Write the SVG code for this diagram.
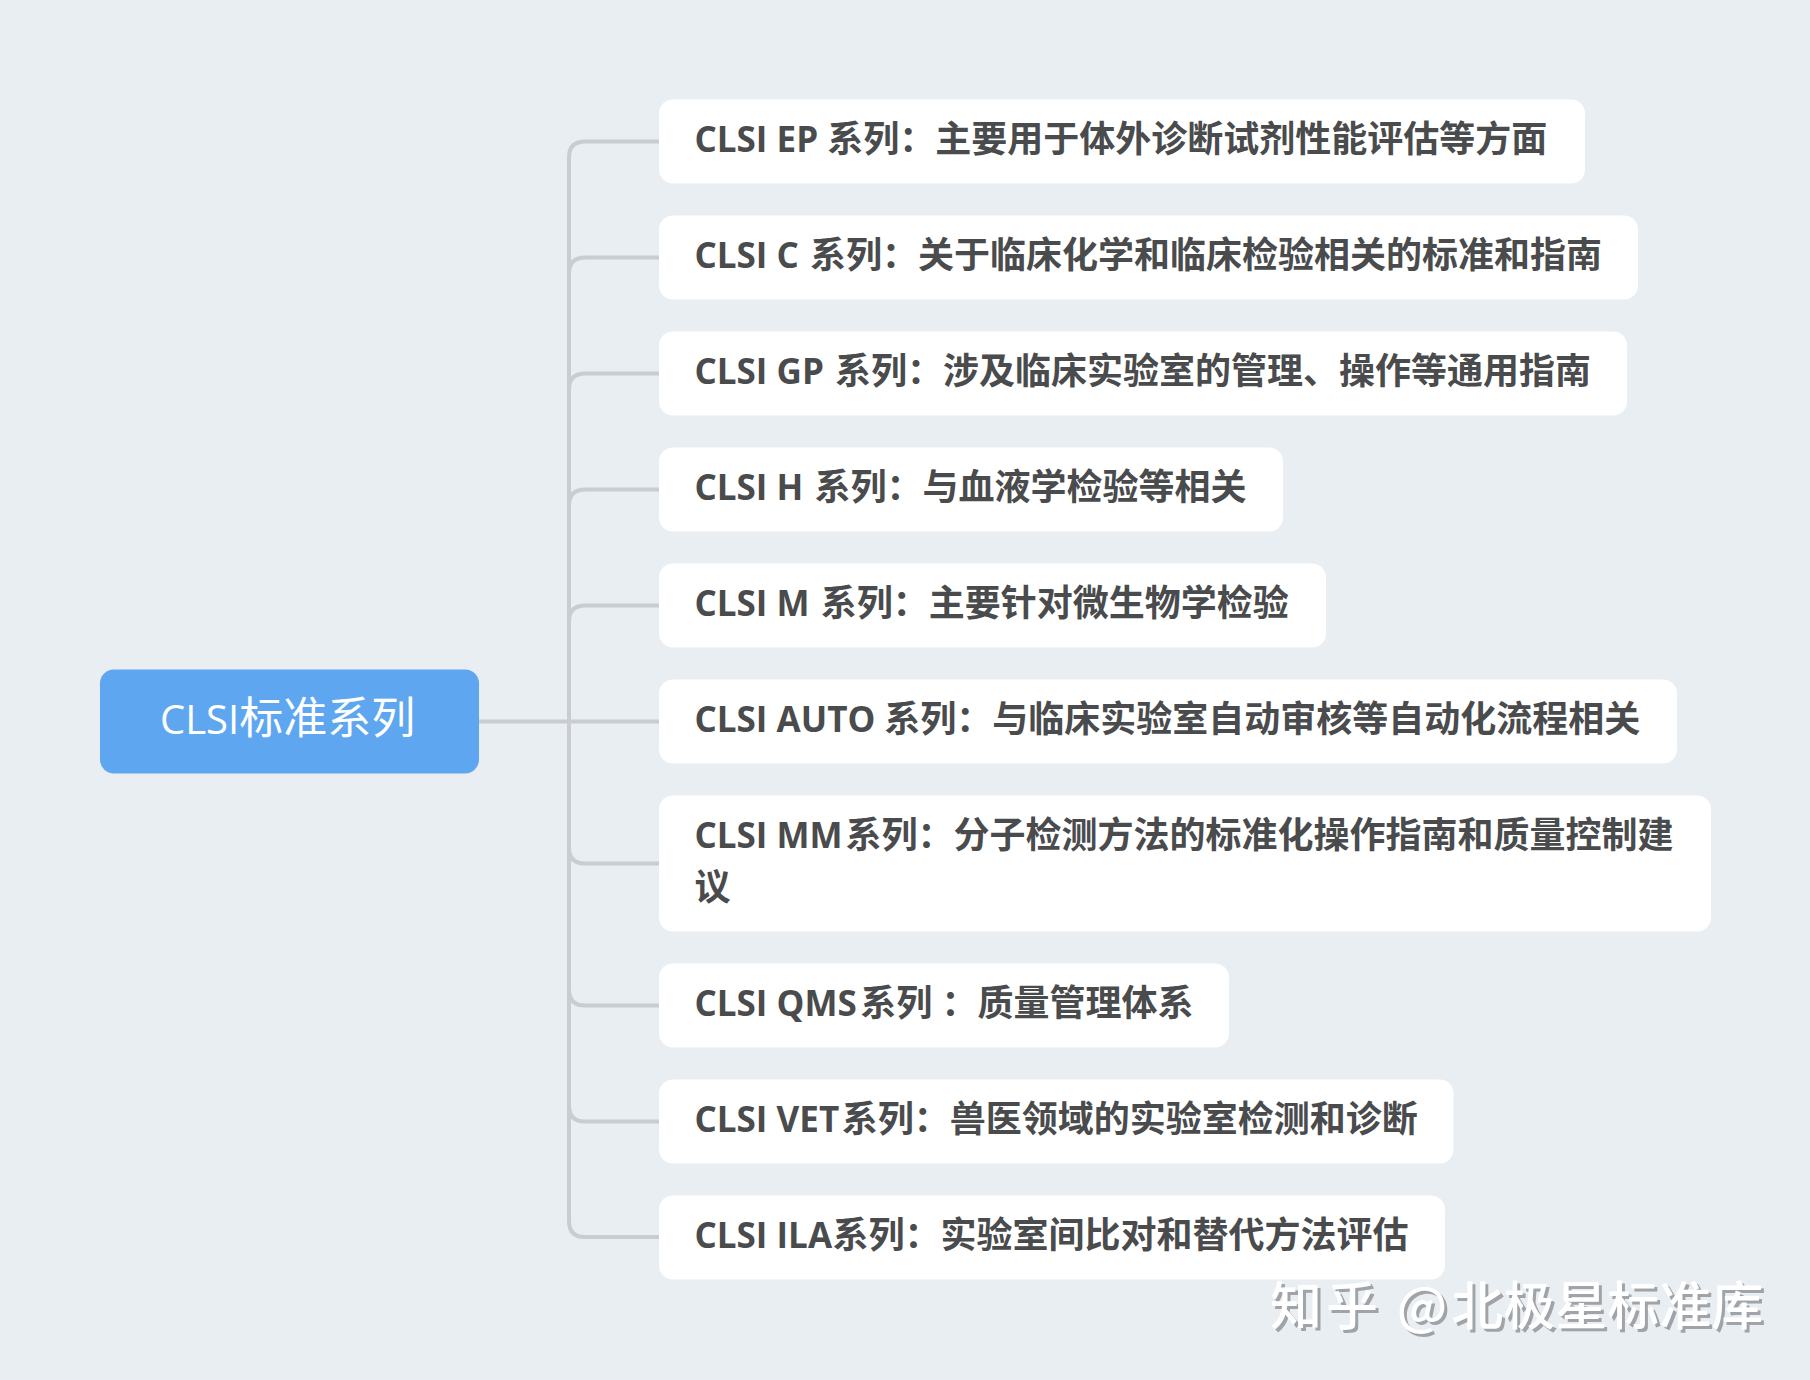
<svg xmlns="http://www.w3.org/2000/svg" width="1810" height="1380" viewBox="0 0 1810 1380">
<style>
.n{fill:#fff}
.t{font-family:"Open Sans","Noto Sans CJK SC",sans-serif;font-weight:700;font-size:36px;fill:#4a4b4d}
.l{font-size:35px}
.c{fill:none;stroke:#c9ccd1;stroke-width:4}
.w{font-family:"Noto Sans CJK SC",sans-serif;font-size:52px;font-weight:500}
</style>
<rect width="1810" height="1380" fill="#e8eef2"/>
<g id="connectors" class="c">
<path d="M479 721.5H659"/>
<path d="M659 141.5H585Q569 141.5 569 157.5V1221Q569 1237 585 1237H659"/>
<path d="M659 257.5H585Q569 257.5 569 273.5"/>
<path d="M659 373.5H585Q569 373.5 569 389.5"/>
<path d="M659 489.5H585Q569 489.5 569 505.5"/>
<path d="M659 605.5H585Q569 605.5 569 621.5"/>
<path d="M569 847.5Q569 863.5 585 863.5H659"/>
<path d="M569 989.5Q569 1005.5 585 1005.5H659"/>
<path d="M569 1105.5Q569 1121.5 585 1121.5H659"/>
</g>
<g id="root"><rect x="100" y="669.5" width="379" height="104" rx="14" fill="#5ea7f0"/>
<text x="160" y="734" font-family="'Open Sans','Noto Sans CJK SC',sans-serif" font-size="44" fill="#fff"><tspan font-size="40">CLSI</tspan>标准系列</text></g>
<g id="n1"><rect class="n" x="659" y="99.5" width="926" height="84" rx="14"/><text class="t" x="694.5" y="152"><tspan class="l">CLSI EP </tspan>系列：主要用于体外诊断试剂性能评估等方面</text></g>
<g id="n2"><rect class="n" x="659" y="215.5" width="979" height="84" rx="14"/><text class="t" x="694.5" y="268"><tspan class="l">CLSI C </tspan><tspan dx="2">系列：关于临床化学和临床检验相关的标准和指南</tspan></text></g>
<g id="n3"><rect class="n" x="659" y="331.5" width="968" height="84" rx="14"/><text class="t" x="694.5" y="384"><tspan class="l">CLSI GP </tspan><tspan dx="2">系列：涉及临床实验室的管理、操作等通用指南</tspan></text></g>
<g id="n4"><rect class="n" x="659" y="447.5" width="624" height="84" rx="14"/><text class="t" x="694.5" y="500"><tspan class="l">CLSI H </tspan><tspan dx="2">系列：与血液学检验等相关</tspan></text></g>
<g id="n5"><rect class="n" x="659" y="563.5" width="667" height="84" rx="14"/><text class="t" x="694.5" y="616"><tspan class="l">CLSI M </tspan><tspan dx="2">系列：主要针对微生物学检验</tspan></text></g>
<g id="n6"><rect class="n" x="659" y="679.5" width="1018" height="84" rx="14"/><text class="t" x="694.5" y="732"><tspan class="l">CLSI AUTO </tspan>系列：与临床实验室自动审核等自动化流程相关</text></g>
<g id="n7"><rect class="n" x="659" y="795.5" width="1052" height="136" rx="14"/><text class="t" x="694.5" y="848"><tspan class="l">CLSI MM</tspan><tspan dx="3">系列：分子检测方法的标准化操作指南和质量控制建</tspan></text><text class="t" x="694.5" y="900">议</text></g>
<g id="n8"><rect class="n" x="659" y="963.5" width="570" height="84" rx="14"/><text class="t" x="694.5" y="1016"><tspan class="l">CLSI QMS</tspan><tspan dx="3.5">系列 ：质量管理体系</tspan></text></g>
<g id="n9"><rect class="n" x="659" y="1079.5" width="794.5" height="84" rx="14"/><text class="t" x="694.5" y="1132"><tspan class="l">CLSI VET</tspan><tspan dx="2.5">系列：兽医领域的实验室检测和诊断</tspan></text></g>
<g id="n10"><rect class="n" x="659" y="1195.5" width="786" height="84" rx="14"/><text class="t" x="694.5" y="1248"><tspan class="l">CLSI ILA</tspan><tspan dx="0.5">系列：实验室间比对和替代方法评估</tspan></text></g>
<g id="watermark"><text class="w" x="1273" y="1328" fill="#a0a4a9">知<tspan dx="4">乎</tspan> <tspan dx="7">@</tspan><tspan dx="4">北极星标准库</tspan></text><text class="w" x="1270" y="1325" fill="#fff">知<tspan dx="4">乎</tspan> <tspan dx="7">@</tspan><tspan dx="4">北极星标准库</tspan></text></g>
</svg>
